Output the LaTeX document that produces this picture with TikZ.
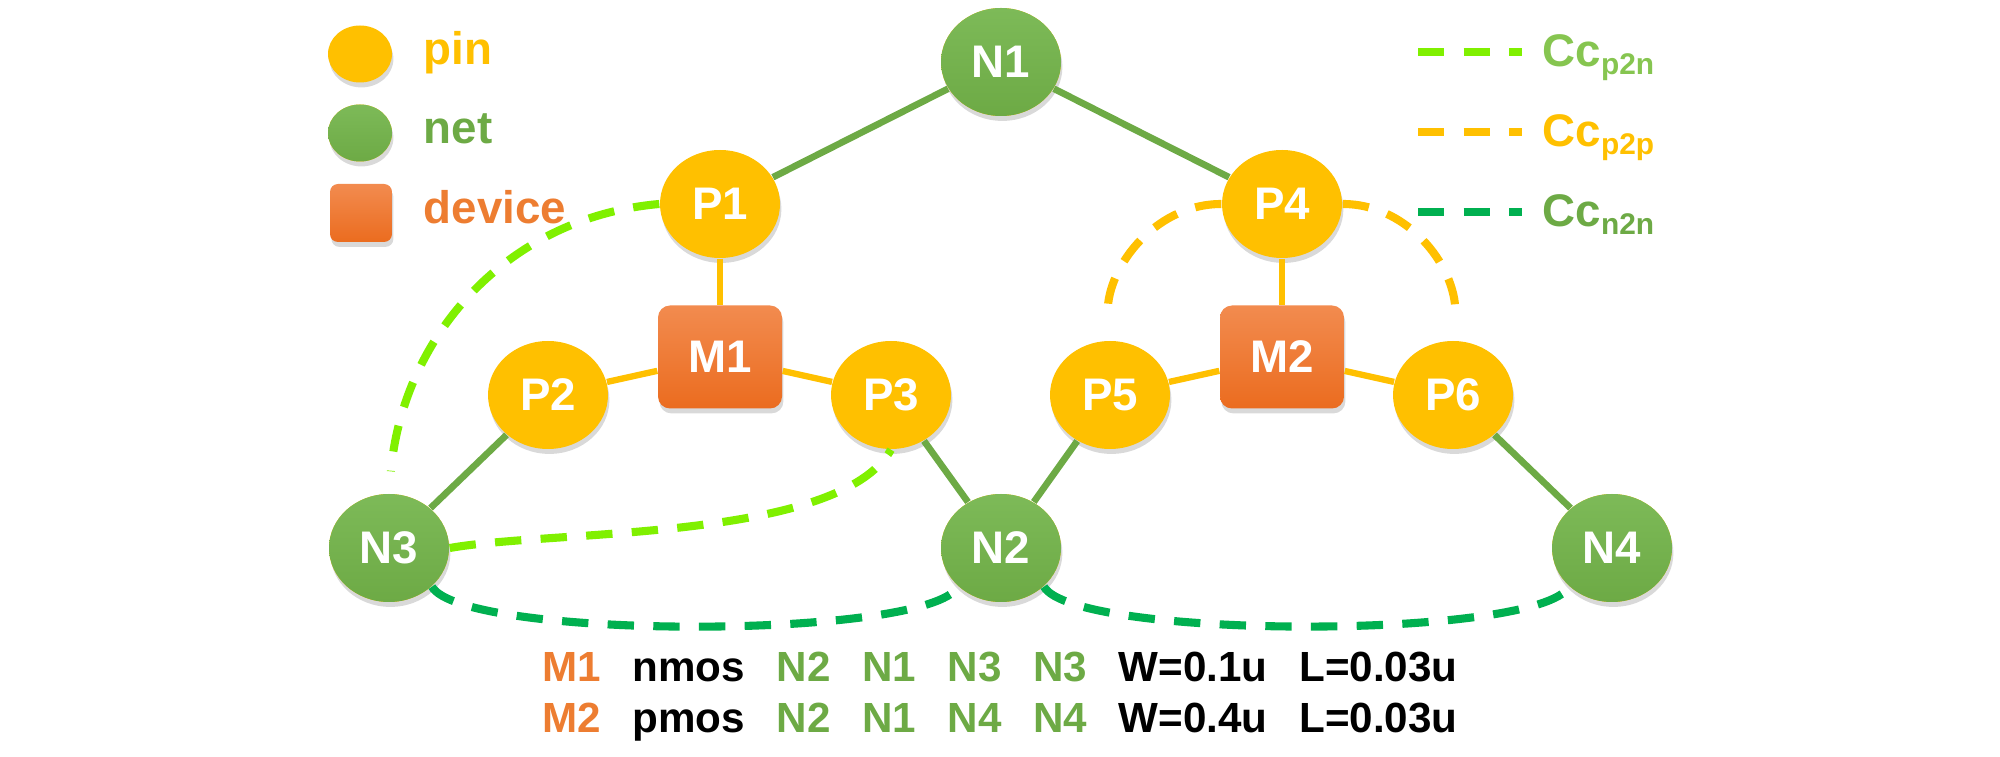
\documentclass[tikz,border=0pt]{standalone}
\usepackage{fontspec}
\setmainfont{Liberation Sans}
\usetikzlibrary{shapes.geometric,shadows}

\definecolor{pinclr}{HTML}{FFC000}
\definecolor{netclr}{HTML}{6DAA45}
\definecolor{netlight}{HTML}{7DBA58}
\definecolor{devclr}{HTML}{ED7D31}
\definecolor{devlight}{HTML}{F28B4F}
\definecolor{devdark}{HTML}{EB6C1F}
\definecolor{ptnclr}{HTML}{80F000}
\definecolor{ptnlabel}{HTML}{86C550}
\definecolor{ntnclr}{HTML}{00B050}

\newcommand{\colgap}{\hspace{0.75em}}
\newcommand{\ccsub}[1]{Cc{\fontsize{8.5}{8.5}\selectfont\raisebox{-0.55ex}{#1}}}

\tikzset{
  shdw/.style={drop shadow={shadow xshift=0.4pt, shadow yshift=-1.4pt, opacity=0.3}},
  label font/.style={font=\bfseries\fontsize{13}{13}\selectfont},
  pinnode/.style={ellipse, shdw, fill=pinclr, draw=none,
    minimum width=1.2cm, minimum height=1.08cm, inner sep=0pt,
    text=white, label font},
  netnode/.style={pinnode, top color=netlight, bottom color=netclr},
  devnode/.style={rectangle, rounded corners=0.12cm, shdw,
    top color=devlight, bottom color=devdark,
    minimum width=1.24cm, minimum height=1.03cm, inner sep=0pt,
    text=white, label font},
  netedge/.style={draw=netclr, line width=1.9pt},
  pinedge/.style={draw=pinclr, line width=1.8pt},
  cc/.style={line width=2.3pt, dash pattern=on 7.5pt off 5.5pt},
  cpn/.style={cc, draw=ptnclr},
  cpp/.style={cc, draw=pinclr},
  cnn/.style={cc, draw=ntnclr},
  lgdtext/.style={anchor=mid west, inner sep=0pt,
    font=\bfseries\fontsize{13}{13}\selectfont},
  tblrow/.style={anchor=base, inner sep=0pt,
    font=\bfseries\fontsize{12}{12}\selectfont}
}

\begin{document}
\begin{tikzpicture}[x=1cm, y=1cm]
  \useasboundingbox (0,0) rectangle (20,7.56);

  % Legend (node kinds)
  \node[pinnode, minimum width=0.64cm, minimum height=0.57cm] (Lpin) at (3.60,7.02) {};
  \node[netnode, minimum width=0.64cm, minimum height=0.57cm] (Lnet) at (3.60,6.23) {};
  \node[devnode, minimum width=0.62cm, minimum height=0.58cm,
        rounded corners=0.08cm] (Ldev) at (3.61,5.43) {};
  \node[lgdtext, text=pinclr] (tpin) at (4.23,7.01) {pin};
  \node[lgdtext, text=netclr] (tnet) at (4.23,6.22) {net};
  \node[lgdtext, text=devclr] (tdev) at (4.23,5.42) {device};

  % Legend (coupling caps)
  \foreach \k/\c/\cl/\y/\sub in {1/ptnclr/ptnlabel/7.04/p2n,
                                  2/pinclr/pinclr/6.24/p2p,
                                  3/ntnclr/netclr/5.44/n2n} {
    \coordinate (d\k) at (14.18,\y);
    \coordinate (e\k) at (15.22,\y);
    \draw[cc, draw=\c] (d\k) -- (e\k);
    \node[lgdtext, text=\cl, yshift=-0.05cm] (c\k) at (15.42,\y) {\ccsub{\sub}};
  }

  % Nets
  \node[netnode] (N1) at (10.01,6.94) {N1};
  \node[netnode] (N3) at (3.89,2.08) {N3};
  \node[netnode] (N2) at (10.01,2.08) {N2};
  \node[netnode] (N4) at (16.12,2.08) {N4};

  % Devices with their pins
  \foreach \m/\s/\t/\l/\r/\nl/\nr in {1/-1/1/2/3/3/2, 2/1/4/5/6/2/4} {
    \pgfmathsetmacro\cx{10.01+\s*2.81}

    \node[pinnode] (P\t) at (\cx,5.52) {P\t};
    \node[devnode] (M\m) at (\cx,3.99) {M\m};
    \node[pinnode] (P\l) at (\cx-1.72,3.61) {P\l};
    \node[pinnode] (P\r) at (\cx+1.71,3.61) {P\r};

    \draw[netedge] (N1) -- (P\t);
    \draw[pinedge] (P\t) -- (M\m);
    \draw[pinedge] (M\m) -- (P\l);
    \draw[pinedge] (M\m) -- (P\r);
    \draw[netedge] (P\l) -- (N\nl);
    \draw[netedge] (P\r) -- (N\nr);
  }

  % Coupling capacitances
  \draw[cpn, shorten >=0.22cm] (P1.west) to[out=185, in=85] (N3.north);
  \draw[cpn] (N3.east) to[out=10, in=-120, looseness=0.6] (P3.south);
  \draw[cpp, shorten >=0.24cm] (P4.west) to[out=180, in=95] (P5.north);
  \draw[cpp, shorten >=0.24cm] (P4.east) to[out=0, in=85] (P6.north);
  \draw[cnn] (N3.south east) to[out=-60, in=-120, looseness=0.3] (N2.south west);
  \draw[cnn] (N2.south east) to[out=-60, in=-120, looseness=0.3] (N4.south west);

  % Netlist
  \node[tblrow] (row1) at (10.0,0.74) {{\color{devclr}M1}\colgap nmos\colgap
    {\color{netclr}N2\colgap N1\colgap N3\colgap N3}\colgap W=0.1u\colgap L=0.03u};
  \node[tblrow] (row2) at (10.0,0.24) {{\color{devclr}M2}\colgap pmos\colgap
    {\color{netclr}N2\colgap N1\colgap N4\colgap N4}\colgap W=0.4u\colgap L=0.03u};
\end{tikzpicture}
\end{document}
